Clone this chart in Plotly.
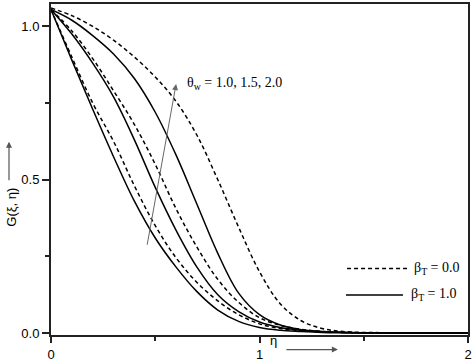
import plotly.graph_objects as go

# eta grid shared by all curves
eta = [0.0, 0.1, 0.2, 0.3, 0.4, 0.5, 0.6, 0.7, 0.8, 0.9, 1.0, 1.1, 1.2, 1.3, 1.4, 1.6, 2.0]

# beta_T = 1.0 (solid), theta_w = 1.0, 1.5, 2.0
G_solid_10 = [1.055, 0.89, 0.73, 0.575, 0.43, 0.31, 0.215, 0.135, 0.075, 0.038, 0.018, 0.009, 0.005, 0.002, 0.001, 0.0, 0.0]
G_solid_15 = [1.055, 0.975, 0.88, 0.77, 0.63, 0.475, 0.335, 0.215, 0.125, 0.07, 0.036, 0.018, 0.009, 0.004, 0.002, 0.0, 0.0]
G_solid_20 = [1.055, 1.02, 0.97, 0.91, 0.83, 0.72, 0.58, 0.42, 0.26, 0.13, 0.06, 0.026, 0.011, 0.005, 0.002, 0.0, 0.0]

# beta_T = 0.0 (dashed), theta_w = 1.0, 1.5, 2.0
G_dash_10 = [1.055, 0.90, 0.75, 0.625, 0.48, 0.35, 0.245, 0.165, 0.105, 0.06, 0.03, 0.015, 0.008, 0.004, 0.002, 0.0, 0.0]
G_dash_15 = [1.055, 0.985, 0.895, 0.79, 0.68, 0.55, 0.405, 0.28, 0.175, 0.10, 0.05, 0.025, 0.012, 0.005, 0.002, 0.0, 0.0]
G_dash_20 = [1.06, 1.035, 1.0, 0.955, 0.90, 0.835, 0.755, 0.645, 0.50, 0.345, 0.20, 0.095, 0.04, 0.015, 0.005, 0.001, 0.0]

x_ticks = [0, 1, 2]
x_ticklabels = ["0", "1", "2"]
y_ticks = [0.0, 0.5, 1.0]
y_ticklabels = ["0.0", "0.5", "1.0"]

legend_dashed = "β<sub>T</sub> = 0.0"
legend_solid = "β<sub>T</sub> = 1.0"
theta_label = "θ<sub>w</sub> = 1.0, 1.5, 2.0"

fig = go.Figure()

dash_sets = [G_dash_10, G_dash_15, G_dash_20]
solid_sets = [G_solid_10, G_solid_15, G_solid_20]

for i, g in enumerate(dash_sets):
    fig.add_trace(go.Scatter(
        x=eta, y=g, mode="lines",
        line=dict(color="black", width=1.5, dash="4px,3px", shape="spline", smoothing=1),
        name=legend_dashed, showlegend=False))
for i, g in enumerate(solid_sets):
    fig.add_trace(go.Scatter(
        x=eta, y=g, mode="lines",
        line=dict(color="black", width=1.5, shape="spline", smoothing=1),
        name=legend_solid, showlegend=False))

serif = "Liberation Serif, Times New Roman, serif"
sans = "Liberation Sans, Arial, sans-serif"

# legend keys (drawn as shapes in paper space) and labels
fig.add_shape(type="line", xref="paper", yref="paper", x0=0.710, x1=0.856, y0=0.2006, y1=0.2006,
              line=dict(color="black", width=1.5, dash="4px,3px"))
fig.add_shape(type="line", xref="paper", yref="paper", x0=0.7074, x1=0.8441, y0=0.1209, y1=0.1209,
              line=dict(color="black", width=1.5))
fig.add_annotation(x=0.866, y=0.2006, xref="paper", yref="paper", text=legend_dashed,
                   showarrow=False, xanchor="left", yanchor="middle",
                   font=dict(family=serif, size=14, color="black"))
fig.add_annotation(x=0.859, y=0.1209, xref="paper", yref="paper", text=legend_solid,
                   showarrow=False, xanchor="left", yanchor="middle",
                   font=dict(family=serif, size=14, color="black"))

# theta_w arrow
fig.add_annotation(x=0.60, y=0.812, ax=0.46, ay=0.283, xref="x", yref="y",
                   axref="x", ayref="y", text="", showarrow=True,
                   arrowhead=2, arrowsize=1.2, arrowwidth=1, arrowcolor="#666666")
fig.add_annotation(x=0.645, y=0.815, xref="x", yref="y", text=theta_label,
                   showarrow=False, xanchor="left", yanchor="middle",
                   font=dict(family=serif, size=14, color="black"))

# y-axis title with arrow
fig.add_annotation(x=0, y=0.386, xref="paper", yref="paper", xshift=-49,
                   text="G(ξ, η)", textangle=-90, showarrow=False,
                   font=dict(family=sans, size=13, color="black"))
fig.add_annotation(x=0, y=0.584, xref="paper", yref="paper", xshift=-42,
                   ax=0, ay=40, text="", showarrow=True, arrowhead=2,
                   arrowsize=1, arrowwidth=1.2, arrowcolor="#555555")

# x-axis title with arrow
fig.add_annotation(x=1.065, y=-0.044, xref="x", yref="paper",
                   text="η", showarrow=False,
                   font=dict(family=sans, size=13, color="black"))
fig.add_annotation(x=1.376, y=-0.044, xref="x", yref="paper",
                   ax=-53, ay=0, text="", showarrow=True, arrowhead=2,
                   arrowsize=1, arrowwidth=1.2, arrowcolor="#555555")

fig.update_layout(
    width=474, height=364,
    margin=dict(l=51, r=6, t=2, b=23),
    paper_bgcolor="white", plot_bgcolor="white",
    showlegend=False,
    xaxis=dict(range=[0, 2], tickvals=x_ticks, ticktext=x_ticklabels,
               showgrid=False, zeroline=False, showline=True, linecolor="#222222",
               linewidth=2, mirror=True, ticks="outside", ticklen=6, tickwidth=1.5,
               tickcolor="#222222",
               minor=dict(ticks="outside", ticklen=4, dtick=0.5, tickwidth=1.5, tickcolor="#222222"),
               tickfont=dict(family=sans, size=13, color="black")),
    yaxis=dict(range=[-0.0064, 1.073], tickvals=y_ticks, ticktext=y_ticklabels,
               showgrid=False, zeroline=False, showline=True, linecolor="#222222",
               linewidth=2, mirror=True, ticks="outside", ticklen=7, tickwidth=1.5,
               tickcolor="#222222",
               minor=dict(ticks="outside", ticklen=4, dtick=0.25, tickwidth=1.5, tickcolor="#222222"),
               tickfont=dict(family=sans, size=13, color="black")),
)

fig.write_html("out.html")
